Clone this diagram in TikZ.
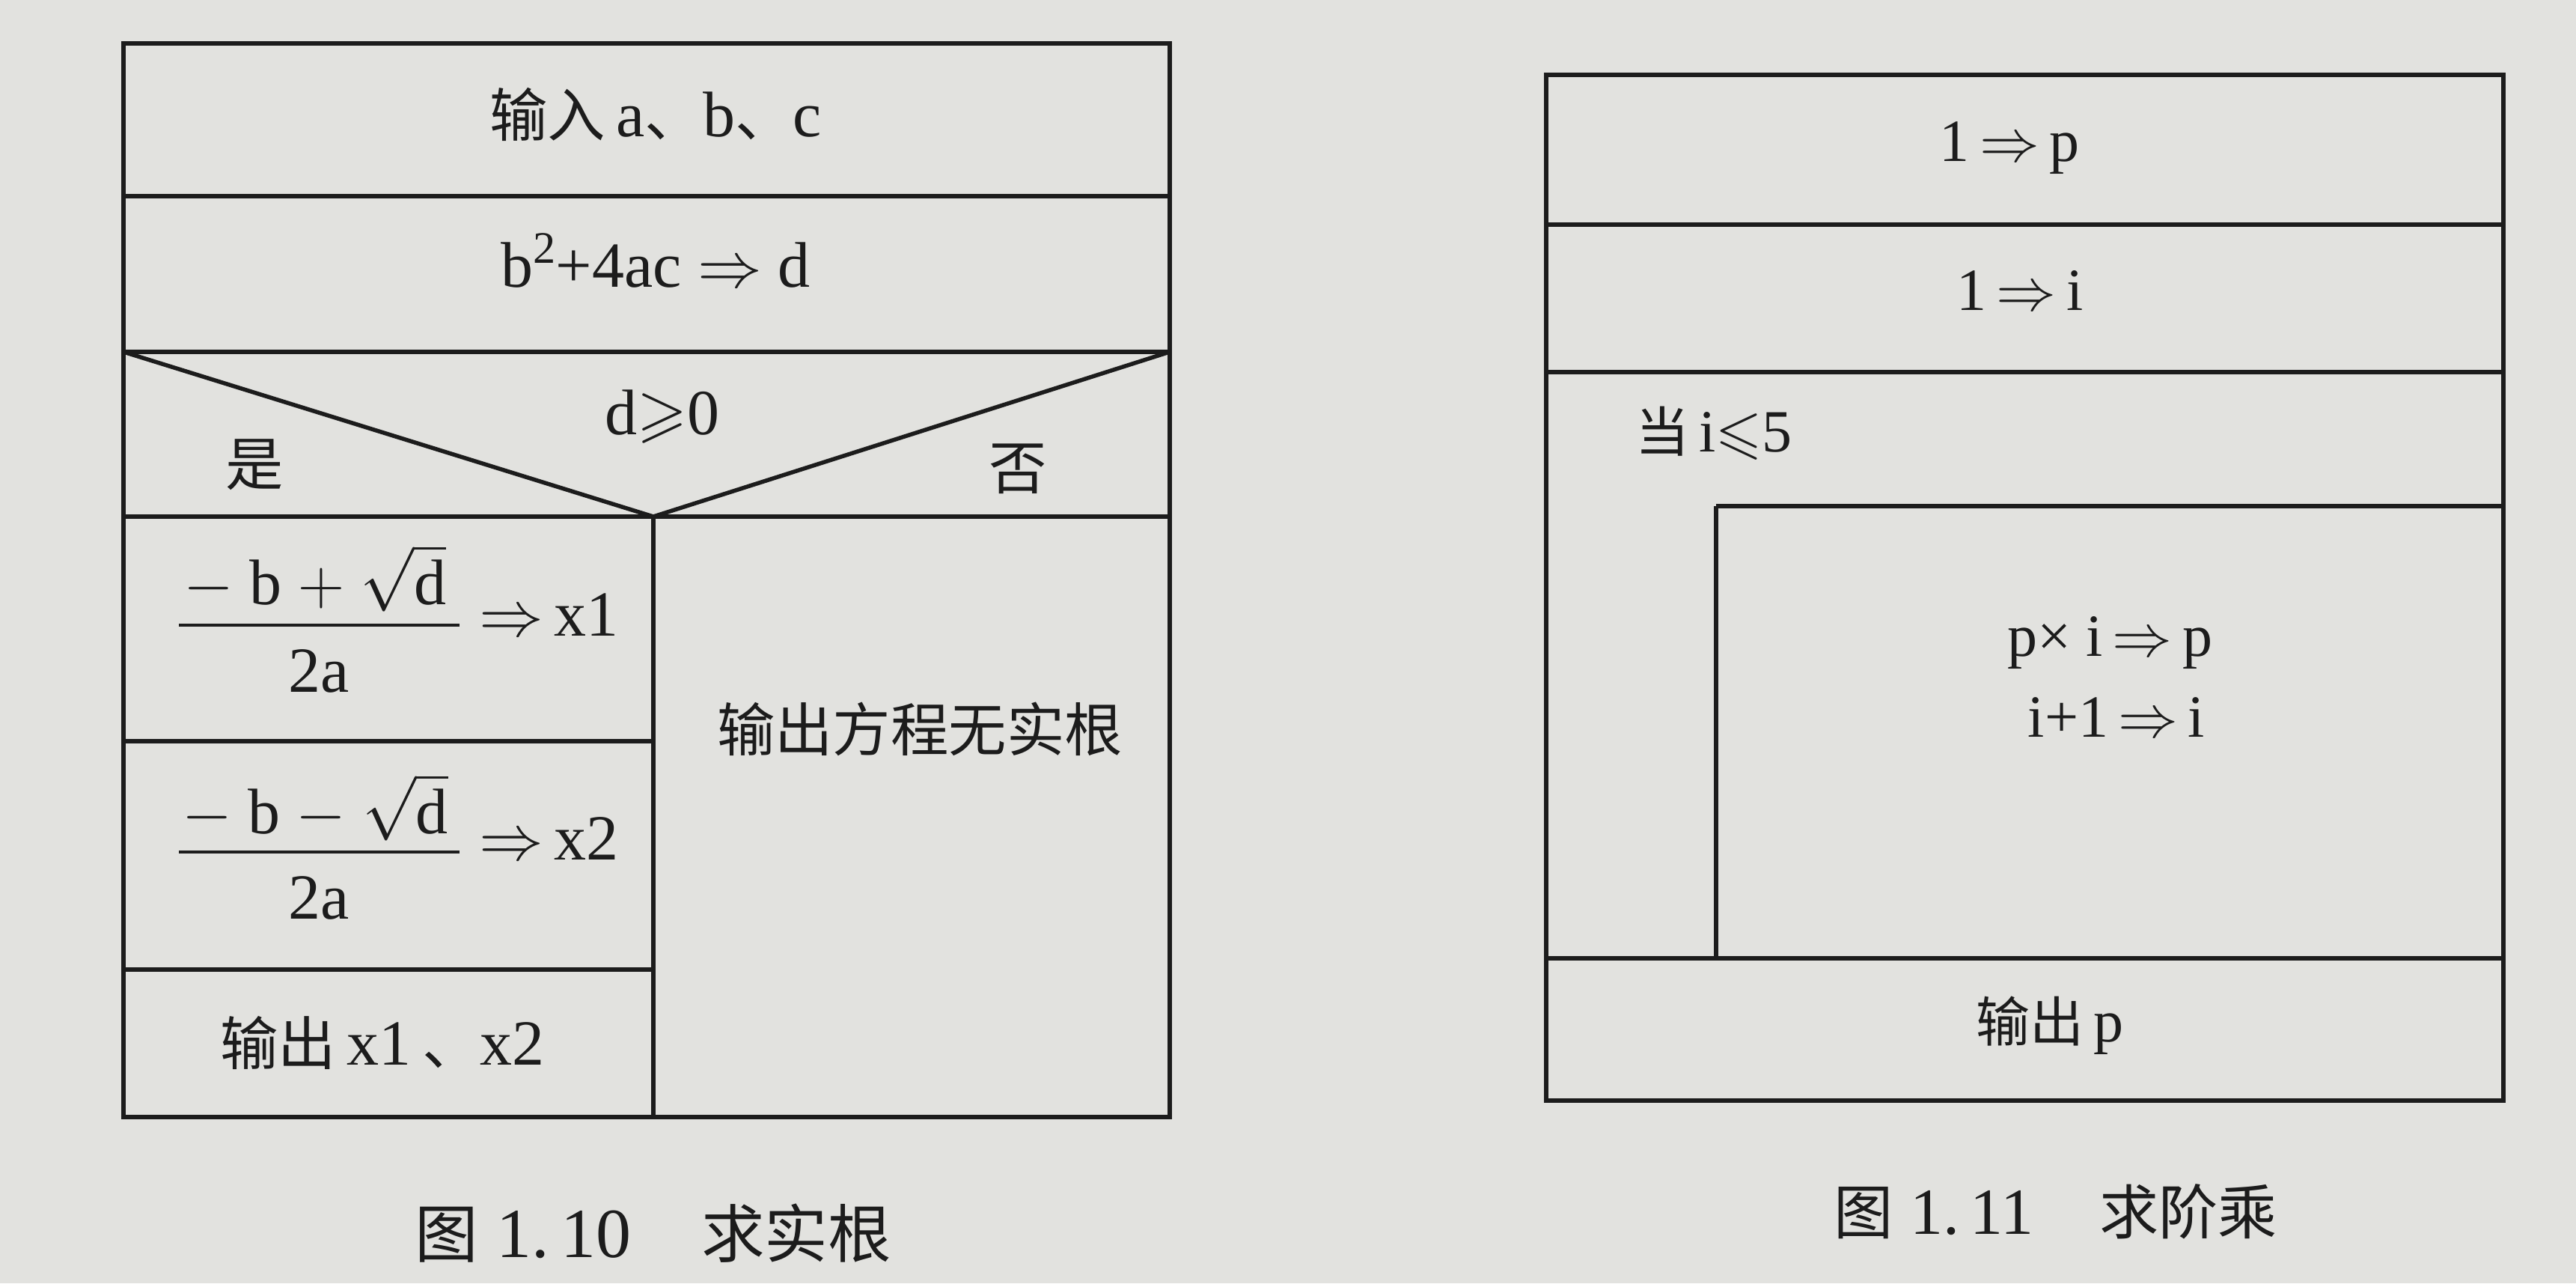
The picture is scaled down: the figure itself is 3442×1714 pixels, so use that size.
\RequirePackage{fix-cm}
\documentclass[tikz,border=0pt]{standalone}
\usepackage{amssymb}
\usepackage{fontspec}
\setmainfont{Liberation Serif}
\newfontfamily\cjk{Noto Sans CJK SC}[Scale=0.9]
\definecolor{paper}{RGB}{226,226,223}
\definecolor{ink}{RGB}{28,28,28}
\begin{document}
\begin{tikzpicture}[x=1pt,y=-1pt,
  frame/.style={draw=ink,line width=5.5pt,line join=miter},
  rule/.style={draw=ink,line width=5.5pt},
  lbl/.style={text=ink,inner sep=0pt,font=\fontsize{86}{100}\selectfont},
  rlbl/.style={text=ink,inner sep=0pt,font=\fontsize{80}{96}\selectfont},
  captxt/.style={text=ink,inner sep=0pt,font=\fontsize{94}{110}\selectfont},
  rcaptxt/.style={text=ink,inner sep=0pt,font=\fontsize{88}{104}\selectfont}]
\fill[paper] (0,0) rectangle (3442,1714);
\useasboundingbox (0,0) rectangle (3442,1714);

% ---------- Figure 1.10 ----------
\draw[frame] (165,58) rectangle (1563,1492);
\draw[rule] (165,262) -- (1563,262);
\draw[rule] (165,470) -- (1563,470);
\draw[rule] (165,690) -- (1563,690);
\draw[rule] (165,470) -- (873,690) -- (1563,470);
\draw[rule] (873,690) -- (873,1492);
\draw[rule] (165,990) -- (873,990);
\draw[rule] (165,1295) -- (873,1295);

\node[lbl] (in) at (876,153) {{\cjk 输入}\,a{\cjk 、}b{\cjk 、}c};
\node[lbl] (disc) at (876,348) {b\textsuperscript{2}+4ac $\Rightarrow$ d};
\node[lbl] (cond) at (885,557) {d$\geqslant$0};
\node[lbl] (yes) at (340,621) {\cjk 是};
\node[lbl] (no) at (1360,626) {\cjk 否};

\node[lbl] (num1) at (421,772) {$-$\ b $+$ $\sqrt{\mbox{d}}$};
\draw[draw=ink,line width=4.5pt] (239,835) -- (614,835);
\node[lbl] (den1) at (426,896) {2a};
\node[lbl,anchor=west] (as1) at (640,821) {$\Rightarrow$\,x1};

\node[lbl] (num2) at (421,1078) {$-$\ b $-$ $\sqrt{\mbox{d}}$};
\draw[draw=ink,line width=4.5pt] (239,1138) -- (614,1138);
\node[lbl] (den2) at (426,1199) {2a};
\node[lbl,anchor=west] (as2) at (640,1120) {$\Rightarrow$\,x2};

\node[lbl] (out1) at (511,1393) {{\cjk 输出}\,x1\,{\cjk 、}x2};
\node[lbl] (out2) at (1229,974) {\cjk 输出方程无实根};
\node[captxt] (cap1) at (873,1647) {{\cjk 图}\ 1.\,10\quad{\cjk 求实根}};

% ---------- Figure 1.11 ----------
\draw[frame] (2066,100) rectangle (3345,1470);
\draw[rule] (2066,300) -- (3345,300);
\draw[rule] (2066,497) -- (3345,497);
\draw[rule] (2293,676) -- (3345,676);
\draw[rule] (2293,676) -- (2293,1280);
\draw[rule] (2066,1280) -- (3345,1280);

\node[rlbl] (p1) at (2685,198) {1\,$\Rightarrow$\,p};
\node[rlbl] (i1) at (2699,388) {1\,$\Rightarrow$\,i};
\node[rlbl] (loop) at (2290,579) {{\cjk 当}\,i$\leqslant$5};
\node[rlbl] (mul) at (2819,859) {p\texttimes\ i\,$\Rightarrow$\,p};
\node[rlbl] (inc) at (2828,958) {i+1\,$\Rightarrow$\,i};
\node[rlbl] (outp) at (2739,1370) {{\cjk 输出}\,p};
\node[rcaptxt] (cap2) at (2747,1618) {{\cjk 图}\ 1.\,11\quad{\cjk 求阶乘}};
\end{tikzpicture}
\end{document}
